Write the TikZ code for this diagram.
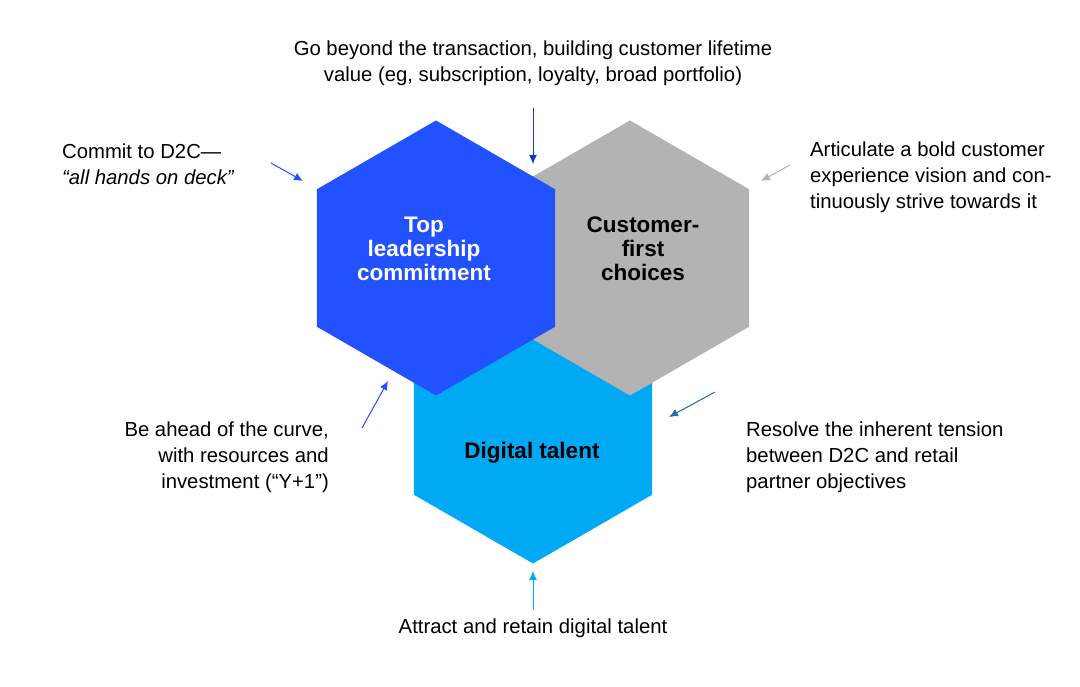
\documentclass[tikz,border=0pt]{standalone}
\usepackage{fontspec}
\setmainfont{Liberation Sans}
\usepackage{tikz}
\usetikzlibrary{arrows.meta}

\definecolor{hexblue}{HTML}{2251FF}
\definecolor{hexgray}{HTML}{B3B3B3}
\definecolor{hexcyan}{HTML}{00A9F4}
\definecolor{arrteal}{HTML}{1F6FAA}
\definecolor{arrnavy}{HTML}{1A3AB8}

\tikzset{
  hexlabel/.style={font=\fontsize{22.5}{24}\selectfont\bfseries, align=center},
  note/.style={font=\fontsize{20.3}{26}\selectfont, inner sep=0pt},
  pointer/.style={-{Latex[length=9pt,width=8pt]}, line width=1pt},
}

\begin{document}
\begin{tikzpicture}[x=1pt,y=-1pt]
\useasboundingbox (0,0) rectangle (1080,687);

% hexagon centres
\coordinate (cyan) at (533,426);
\coordinate (gray) at (630,258);
\coordinate (blue) at (436,258);

% hexagons, back to front
\fill[hexcyan] (cyan) +(90:137.5) -- +(150:137.5) -- +(210:137.5) -- +(270:137.5) -- +(330:137.5) -- +(30:137.5) -- cycle;
\fill[hexgray] (gray) +(90:137.5) -- +(150:137.5) -- +(210:137.5) -- +(270:137.5) -- +(330:137.5) -- +(30:137.5) -- cycle;
\fill[hexblue] (blue) +(90:137.5) -- +(150:137.5) -- +(210:137.5) -- +(270:137.5) -- +(330:137.5) -- +(30:137.5) -- cycle;

% hexagon labels
\node[hexlabel, text=white] (lead) at (424,249) {Top\\leadership\\commitment};
\node[hexlabel] (cust) at (643,249) {Customer-\\first\\choices};
\node[hexlabel] (talent) at (532,453) {Digital talent};

% notes
\node[note, align=center] (ntop) at (533,63) {Go beyond the transaction, building customer lifetime\\value (eg, subscription, loyalty, broad portfolio)};
\node[note, align=left, anchor=west] (nleft) at (62,164) {Commit to D2C—\\\textit{“all hands on deck”}};
\node[note, align=left, anchor=west] (nright) at (810,177) {Articulate a bold customer\\experience vision and con-\\tinuously strive towards it};
\node[note, align=right, anchor=east] (nlowl) at (329,457) {Be ahead of the curve,\\with resources and\\investment (“Y+1”)};
\node[note, align=left, anchor=west] (nlowr) at (746,457) {Resolve the inherent tension\\between D2C and retail\\partner objectives};
\node[note] (nbot) at (533,628) {Attract and retain digital talent};

% arrow ends
\coordinate (a1) at (533,108); \coordinate (b1) at (533,164);
\coordinate (a2) at (271,163); \coordinate (b2) at (303,181);
\coordinate (a3) at (790,165); \coordinate (b3) at (761,181);
\coordinate (a4) at (362,428); \coordinate (b4) at (388,381);
\coordinate (a5) at (715,392); \coordinate (b5) at (669,417);
\coordinate (a6) at (533,610); \coordinate (b6) at (533,571);

% arrows
\draw[pointer, arrnavy] (a1) -- (b1);
\draw[pointer, hexblue] (a2) -- (b2);
\draw[pointer, hexgray] (a3) -- (b3);
\draw[pointer, hexblue] (a4) -- (b4);
\draw[pointer, arrteal] (a5) -- (b5);
\draw[pointer, hexcyan] (a6) -- (b6);

\end{tikzpicture}
\end{document}
